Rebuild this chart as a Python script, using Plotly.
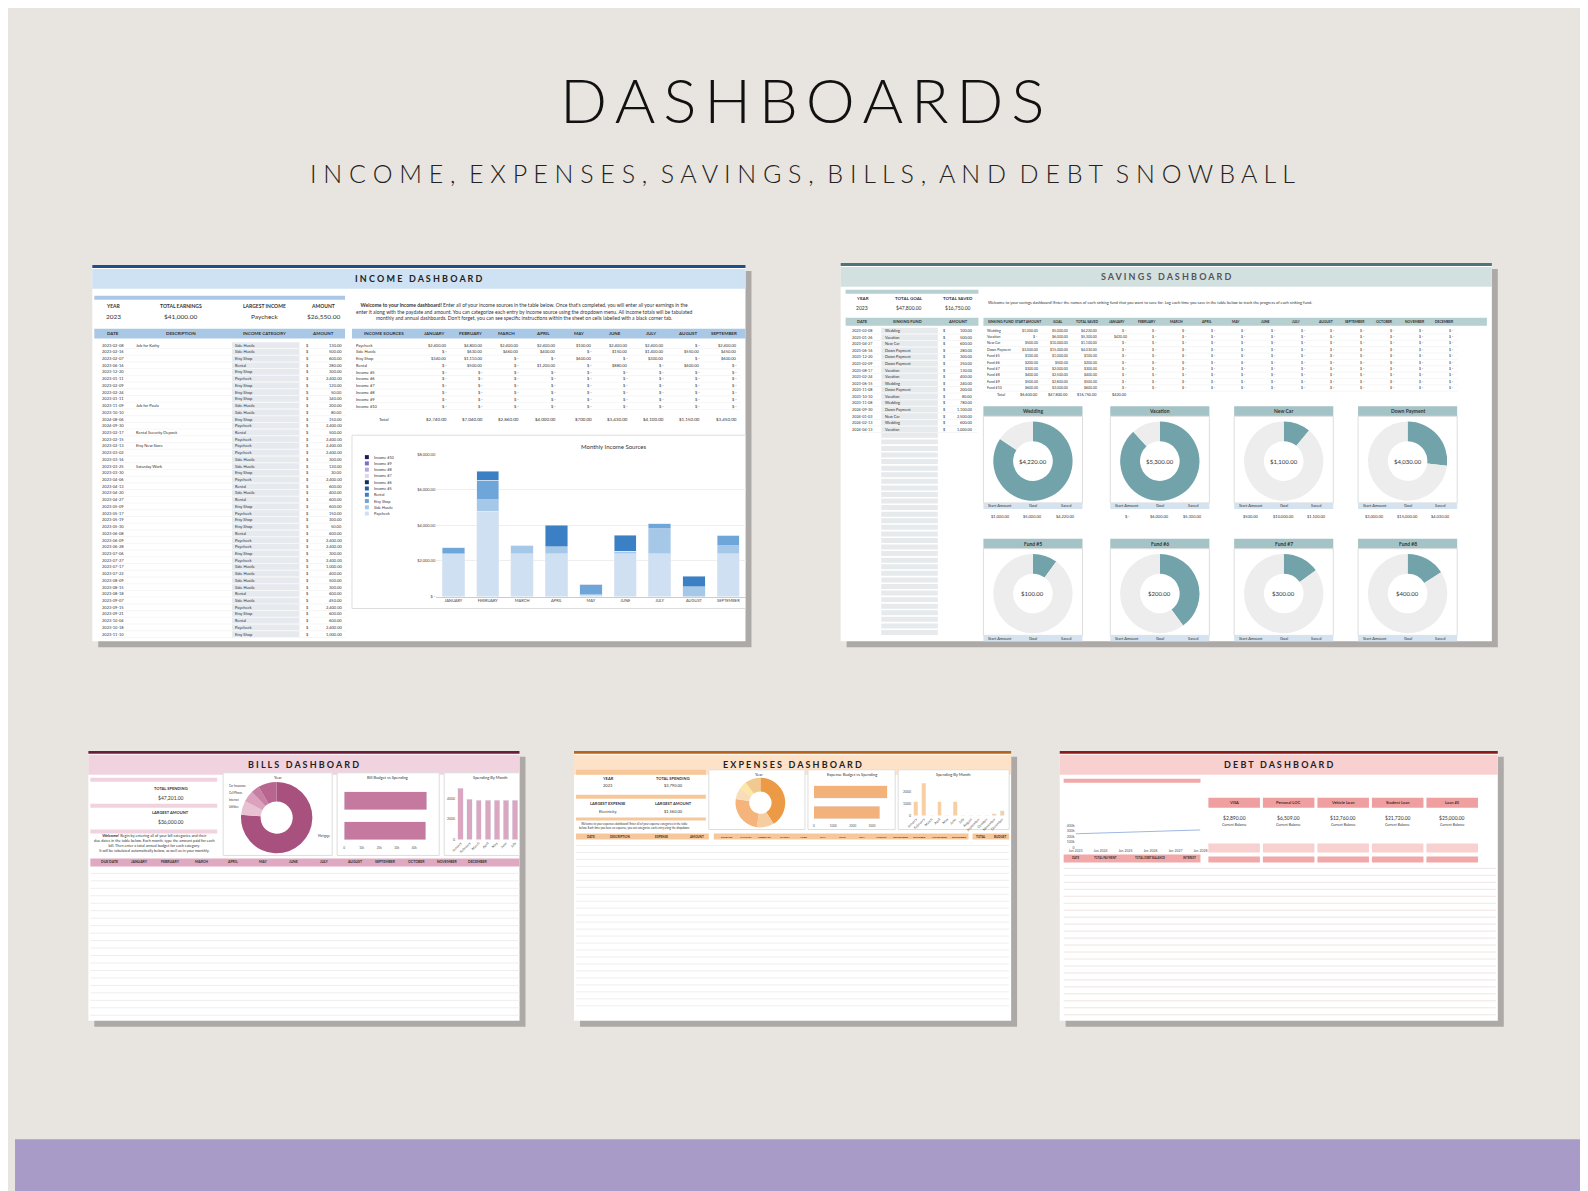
import plotly.graph_objects as go

W, H = 1588, 1191

def X(px):
    return px / W

def Y(py):
    return 1 - py / H

# ---- income dashboard data
months = ["JANUARY", "FEBRUARY", "MARCH", "APRIL", "MAY", "JUNE", "JULY", "AUGUST", "SEPTEMBER"]
paycheck = [2400, 4800, 2400, 2400, 100, 2400, 2400, 0, 2400]
side_hustle = [0, 630, 460, 400, 0, 150, 1400, 550, 450]
etsy_shop = [340, 1110, 0, 0, 600, 0, 300, 0, 600]
rental = [0, 500, 0, 1200, 0, 880, 0, 600, 0]
income_ticks = [0, 2000, 4000, 6000, 8000]
income_tick_text = ["$ -", "$2,000.00", "$4,000.00", "$6,000.00", "$8,000.00"]

log_dates = ["2023-02-08", "2023-02-16", "2023-02-07", "2023-06-16", "2023-12-20", "2023-01-11",
             "2023-02-09", "2023-02-24", "2023-01-11", "2023-11-09", "2023-10-10", "2024-08-06",
             "2024-09-30", "2023-02-17", "2023-02-15", "2023-02-13", "2023-03-02", "2023-03-16",
             "2023-03-25", "2023-03-30", "2023-04-06", "2023-04-13", "2023-04-20", "2023-04-27",
             "2023-05-09", "2023-05-17", "2023-05-19", "2023-05-30", "2023-06-08", "2023-06-09",
             "2023-06-28", "2023-07-06", "2023-07-27", "2023-07-17", "2023-07-22", "2023-08-09",
             "2023-08-15", "2023-08-18", "2023-09-07", "2023-09-15", "2023-09-21", "2023-10-04",
             "2023-10-18", "2023-11-10"]
log_desc = ["Job for Kathy", "", "", "", "", "", "", "", "", "Job for Paula", "", "", "",
            "Rental Security Deposit", "", "Etsy New Store", "", "", "Saturday Work"] + [""] * 25
log_cat = ["Side Hustle", "Side Hustle", "Etsy Shop", "Rental", "Etsy Shop", "Paycheck", "Etsy Shop",
           "Etsy Shop", "Etsy Shop", "Side Hustle", "Side Hustle", "Etsy Shop", "Paycheck", "Rental",
           "Paycheck", "Paycheck", "Paycheck", "Side Hustle", "Side Hustle", "Etsy Shop", "Paycheck",
           "Rental", "Side Hustle", "Rental", "Etsy Shop", "Paycheck", "Etsy Shop", "Etsy Shop",
           "Rental", "Paycheck", "Paycheck", "Etsy Shop", "Paycheck", "Side Hustle", "Side Hustle",
           "Side Hustle", "Side Hustle", "Rental", "Side Hustle", "Paycheck", "Etsy Shop", "Rental",
           "Paycheck", "Etsy Shop"]
log_amt = [130, 500, 600, 280, 300, 2400, 120, 50, 340, 200, 80, 150, 2400, 500, 2400, 2400, 2400,
           300, 130, 30, 2400, 600, 400, 600, 600, 150, 300, 50, 600, 2400, 2400, 300, 2400, 1000,
           400, 500, 300, 600, 450, 2400, 600, 600, 2400, 1000]

# ---- savings dashboard data
funds = ["Wedding", "Vacation", "New Car", "Down Payment", "Fund #5", "Fund #6", "Fund #7", "Fund #8",
         "Fund #9", "Fund #10"]
fund_start = [1000, 0, 500, 3000, 100, 200, 300, 400, 500, 600]
fund_goal = [5000, 6000, 10000, 15000, 1000, 500, 2000, 2500, 2800, 3000]
fund_saved = [4220, 5300, 1100, 4030, 100, 200, 300, 400, 500, 600]
fund_jan = [0, 420, 0, 0, 0, 0, 0, 0, 0, 0]
sav_dates = ["2023-02-08", "2023-01-26", "2023-04-27", "2023-06-16", "2023-12-20", "2023-02-09",
             "2023-08-17", "2023-02-24", "2023-06-15", "2023-11-08", "2023-10-10", "2023-11-08",
             "2024-09-30", "2024-01-03", "2024-02-13", "2024-04-13"]
sav_fund = ["Wedding", "Vacation", "New Car", "Down Payment", "Down Payment", "Down Payment",
            "Vacation", "Vacation", "Wedding", "Down Payment", "Vacation", "Wedding", "Down Payment",
            "New Car", "Wedding", "Vacation"]
sav_amt = [100, 500, 600, 280, 300, 250, 130, 400, 240, 200, 80, 780, 1100, 2500, 600, 1000]

# ---- bills / expenses / debt data
bill_cats = ["Mortgage", "Car Insurance", "Cell Phone", "Internet", "Utilities"]
bill_year = [36000, 3000, 2400, 1800, 4001]
bill_budget_lbl = ["Annual Budget", "Total"]
bill_budget = [46500, 47201]
bill_months = ["January", "February", "March", "April", "May", "June", "July"]
bill_month_vals = [5000, 3950, 3850, 3850, 3850, 3850, 3850]
exp_cats = ["Electricity", "Groceries", "Restaurants", "Entertainment", "Clothing", "Home Improvement"]
exp_year = [1560, 420, 950, 280, 200, 380]
exp_budget_lbl = ["Budget", "Total"]
exp_budget = [3400, 3790]
exp_months = ["January", "February", "March", "April", "May", "June", "July", "August", "September",
              "October", "November", "December"]
exp_month_vals = [1150, 2700, 0, 1150, 0, 1150, 0, 0, 0, 0, 150, 400]
debt_months = ["Jan 2023", "Jan 2024", "Jan 2025", "Jan 2026", "Jan 2027", "Jan 2028"]
debt_line = [250000, 262000, 275000, 290000, 305000, 320000]
debt_names = ["VISA", "Personal LOC", "Vehicle Loan", "Student Loan", "Loan #5"]
debt_bal = ["$2,890.00", "$6,509.00", "$12,760.00", "$21,720.00", "$25,000.00"]


def money(v):
    return "$ -" if v == 0 else "${:,.2f}".format(v)


fig = go.Figure()
shapes = []
ann = []


def rect(x0, y0, x1, y1, fill, line=None, lw=0):
    shapes.append(dict(type="rect", xref="paper", yref="paper", x0=X(x0), x1=X(x1), y0=Y(y1), y1=Y(y0),
                       fillcolor=fill, line=dict(color=line or fill, width=lw), layer="below"))


def text(x, y, s, size=6, color="#333", bold=False, anchor="center"):
    ann.append(dict(x=X(x), y=Y(y), xref="paper", yref="paper", text="<b>%s</b>" % s if bold else s,
                    showarrow=False, xanchor=anchor, yanchor="middle",
                    font=dict(size=size, color=color, family="Lato")))


def grid(cols, xs, aligns, y0, rowh, size=4, fills=None, widths=None):
    # cols: list of columns (lists of strings); xs: column anchor x
    n = len(cols[0])
    for r in range(n):
        yy = y0 + r * rowh
        shapes.append(dict(type="line", xref="paper", yref="paper", x0=X(xs[0] - 2), x1=X(xs[-1] + 2),
                           y0=Y(yy + rowh / 2), y1=Y(yy + rowh / 2), line=dict(color="#ececec", width=0.5)))
        for c, col in enumerate(cols):
            if fills and fills[c]:
                rect(widths[c][0], yy - rowh / 2 + 0.5, widths[c][1], yy + rowh / 2 - 0.5, fills[c])
            if col[r]:
                text(xs[c], yy, col[r], size=size, anchor=aligns[c])


def panel(x0, y0, x1, y1, band, top, title, tcolor):
    rect(x0 + 6, y0 + 6, x1 + 6, y1 + 6, "rgba(60,60,60,0.35)")
    rect(x0, y0, x1, y1, "white")
    rect(x0, y0, x1, y0 + 3, top)
    rect(x0, y0 + 4, x1, y0 + 24, band)
    text((x0 + x1) / 2, y0 + 14, title, size=9, color=tcolor, bold=True)


# background
rect(0, 0, W, H, "#e8e4df")
rect(0, 1133, W, H, "#a99bc8")

panel(78, 255, 737, 633, "#cfe2f3", "#1f4e8c", "I N C O M E   D A S H B O A R D", "#222")
panel(833, 253, 1490, 633, "#d3e0e0", "#4d7478", "S A V I N G S   D A S H B O A R D", "#555")
panel(74, 743, 509, 1014, "#f0d3df", "#6b1d3e", "B I L L S   D A S H B O A R D", "#222")
panel(564, 743, 1005, 1014, "#fde2c8", "#b5651d", "E X P E N S E S   D A S H B O A R D", "#222")
panel(1054, 743, 1496, 1014, "#f9d0d0", "#8b1a1a", "D E B T   D A S H B O A R D", "#222")

# titles
ann.append(dict(x=0.5, y=Y(88), xref="paper", yref="paper", showarrow=False, yanchor="middle",
                text="D\u2009A\u2009S\u2009H\u2009B\u2009O\u2009A\u2009R\u2009D\u2009S",
                font=dict(size=62, color="#111", family="Lato", weight=300)))
ann.append(dict(x=0.5, y=Y(163), xref="paper", yref="paper", showarrow=False, yanchor="middle",
                text="I N C O M E ,  E X P E N S E S ,  S A V I N G S ,  B I L L S ,  A N D  D E B T  S N O W B A L L",
                font=dict(size=25, color="#222", family="Lato", weight=300)))

# ---- income KPIs
rect(80, 286, 333, 290, "#a9c8e6")
for cx, lab, val in [(99, "YEAR", "2023"), (167, "TOTAL EARNINGS", "$41,000.00"),
                     (252, "LARGEST INCOME", "Paycheck"), (311, "AMOUNT", "$26,550.00")]:
    text(cx, 296, lab, size=5, bold=True)
    text(cx, 307, val, size=6.5)
text(342, 302, "<b>Welcome to your income dashboard!</b> Enter all of your income sources in the table below. "
     "Once that's completed, you will enter all your earnings in the<br>enter it along with the paydate and amount. "
     "You can categorize each entry by income source using the dropdown menu. All income totals will be tabulated<br>"
     "monthly and annual dashboards. Don't forget, you can see specific instructions within the sheet on cells "
     "labelled with a black corner tab.", size=5, anchor="left")

rect(80, 319, 333, 329, "#a9c8e6")
for cx, lab in [(99, "DATE"), (167, "DESCRIPTION"), (252, "INCOME CATEGORY"), (311, "AMOUNT")]:
    text(cx, 324, lab, size=4.5, bold=True)
grid([log_dates, log_desc, log_cat, ["$"] * 44, ["{:,.2f}".format(a) for a in log_amt]],
     [99, 120, 220, 292, 332], ["center", "left", "left", "left", "right"], 335.5, 6.75, size=4,
     fills=[None, None, "#e6e9ee", None, None], widths=[None, None, (219, 287), None, None])

sources = ["Paycheck", "Side Hustle", "Etsy Shop", "Rental"] + ["Income #%d" % i for i in range(5, 11)]
series = [paycheck, side_hustle, etsy_shop, rental]
rect(340, 319, 737, 329, "#a9c8e6")
text(372, 324, "INCOME SOURCES", size=4.5, bold=True)
inc_cols = [sources]
inc_xs = [342]
for m in range(len(months)):
    text(423 + m * 36.5, 324, months[m], size=4.5, bold=True)
    inc_cols.append([money(s[m]) for s in series] + ["$ -"] * 6)
    inc_xs.append(438 + m * 36.5)
grid(inc_cols, inc_xs, ["left"] + ["right"] * 9, 335.5, 6.8, size=4)
text(372, 410, "Total", size=4.5)
for m in range(len(months)):
    text(438 + m * 36.5, 410, money(sum(s[m] for s in series)), size=4.5, anchor="right")

rect(340, 426, 737, 600, "white", "#dddddd", 1)
colors_inc = ["#cfe0f2", "#a5c7e8", "#6fa6da", "#3b80c4"]
for name, vals, c in zip(["Paycheck", "Side Hustle", "Etsy Shop", "Rental"], series, colors_inc):
    fig.add_trace(go.Bar(x=months, y=vals, name=name, marker_color=c, xaxis="x", yaxis="y", showlegend=False))
text(604, 437, "Monthly Income Sources", size=6)
legend_names = ["Income #10", "Income #9", "Income #8", "Income #7", "Income #6", "Income #5",
                "Rental", "Etsy Shop", "Side Hustle", "Paycheck"]
legend_cols = ["#1f1a5e", "#7b6fc6", "#b6a9e0", "#d9d9e8", "#0d2d5e", "#1f5aa6"] + colors_inc[::-1]
for i, (nm, c) in enumerate(zip(legend_names, legend_cols)):
    rect(353, 446 + i * 6.3, 357, 450 + i * 6.3, c)
    text(360, 448 + i * 6.3, nm, size=3.8, anchor="left")

# ---- savings
rect(838, 280, 972, 284, "#b6cfd0")
for cx, lab, val in [(855, "YEAR", "2023"), (902, "TOTAL GOAL", "$47,800.00"), (951, "TOTAL SAVED", "$16,750.00")]:
    text(cx, 289, lab, size=4.5, bold=True)
    text(cx, 298, val, size=5)
text(980, 293, "Welcome to your savings dashboard! Enter the names of each sinking fund that you want to save for. "
     "Log each time you save in the table below to track the progress of each sinking fund.", size=4, anchor="left")
rect(838, 308, 972, 316, "#b6cfd0")
for cx, lab in [(855, "DATE"), (900, "SINKING FUND"), (951, "AMOUNT")]:
    text(cx, 312, lab, size=4, bold=True)
grid([sav_dates, sav_fund, ["$"] * 16, ["{:,.2f}".format(a) for a in sav_amt]],
     [855, 876, 934, 969], ["center", "left", "left", "right"], 321, 6.6, size=3.8,
     fills=[None, "#e6eaec", None, None], widths=[None, (874, 931), None, None])
for r in range(16, 47):
    rect(874, 318 + r * 6.6, 931, 323 + r * 6.6, "#e6eaec")

rect(977, 308, 1485, 316, "#b6cfd0")
sv_heads = ["SINKING FUND", "START AMOUNT", "GOAL", "TOTAL SAVED", "JANUARY", "FEBRUARY", "MARCH", "APRIL",
            "MAY", "JUNE", "JULY", "AUGUST", "SEPTEMBER", "OCTOBER", "NOVEMBER", "DECEMBER"]
sv_xs = [979] + [1034 + i * 30 for i in range(15)]
text(995, 312, sv_heads[0], size=3.6, bold=True)
for i, hd in enumerate(sv_heads[1:]):
    text(sv_xs[i + 1] - 12, 312, hd, size=3.4, bold=True)
sv_cols = [funds, [money(v) for v in fund_start], [money(v) for v in fund_goal], [money(v) for v in fund_saved],
           [money(v) for v in fund_jan]] + [["$ -"] * 10 for _ in range(11)]
grid(sv_cols, sv_xs, ["left"] + ["right"] * 15, 321, 6.4, size=3.5)
text(995, 385, "Total", size=3.8)
for i, v in enumerate([sum(fund_start), sum(fund_goal), sum(fund_saved), sum(fund_jan)]):
    text(sv_xs[i + 1], 385, money(v), size=3.8, anchor="right")

col_c = [1027, 1155, 1280, 1405]
row_c = [452, 585]
for i in range(8):
    cx, cy = col_c[i % 4], row_c[i // 4]
    rect(cx - 50, cy - 55, cx + 50, cy - 45, "#a4c3c6")
    text(cx, cy - 50, funds[i], size=5, bold=True)
    rect(cx - 50, cy - 45, cx + 50, cy + 42, "white", "#dddddd", 1)
    rect(cx - 50, cy + 42, cx + 50, cy + 48, "#d5e3f0")
    text(cx - 33, cy + 45, "Start Amount", size=4)
    text(cx, cy + 45, "Goal", size=4)
    text(cx + 33, cy + 45, "Saved", size=4)
    if i < 4:
        text(cx - 33, cy + 56, money(fund_start[i]), size=4)
        text(cx, cy + 56, money(fund_goal[i]), size=4)
        text(cx + 33, cy + 56, money(fund_saved[i]), size=4)
    fig.add_trace(go.Pie(values=[fund_saved[i], max(fund_goal[i] - fund_saved[i], 0)],
                         labels=["Saved", "Remaining"], hole=0.5, sort=False, direction="clockwise",
                         rotation=0, textinfo="none", showlegend=False,
                         marker=dict(colors=["#72a3aa", "#ededed"]),
                         domain=dict(x=[X(cx - 40), X(cx + 40)], y=[Y(cy + 40), Y(cy - 40)])))
    text(cx, cy, money(fund_saved[i]), size=6, color="#333")

# ---- bills
rect(76, 770, 204, 774, "#f0d3df")
text(157, 781, "TOTAL SPENDING", size=4, bold=True)
text(157, 790, "$47,201.00", size=5)
rect(76, 796, 204, 800, "#f0d3df")
text(157, 805, "LARGEST AMOUNT", size=4, bold=True)
text(157, 814, "$36,000.00", size=5)
rect(76, 822, 204, 826, "#f0d3df")
text(78, 836, "<b>Welcome!</b> Begin by entering all of your bill categories and their<br>due dates in the table below. "
     "Each month, type the amount paid for each<br>bill. Then enter a total annual budget for each category.<br>"
     "It will be tabulated automatically below, as well as in your monthly.",
     size=3.8, anchor="left")
rect(210, 765, 320, 848, "white", "#dddddd", 1)
rect(325, 765, 428, 848, "white", "#dddddd", 1)
rect(433, 765, 509, 848, "white", "#dddddd", 1)
text(265, 770, "Year", size=4)
text(376, 770, "Bill Budget vs Spending", size=4)
text(480, 770, "Spending By Month", size=4)
fig.add_trace(go.Pie(values=bill_year, labels=bill_cats, hole=0.45, sort=False, direction="clockwise",
                     textinfo="none", showlegend=False,
                     marker=dict(colors=["#a8517f", "#e8c2d3", "#dba2bd", "#c77fa3", "#b8668f"]),
                     domain=dict(x=[X(228), X(300)], y=[Y(846), Y(774)])))
for i, nm in enumerate(bill_cats[1:]):
    text(214, 778 + i * 7, nm, size=2.8, anchor="left")
text(304, 828, "Mortgage", size=2.8, anchor="left")
fig.add_trace(go.Bar(y=bill_budget_lbl, x=bill_budget, orientation="h", marker_color="#c5799e",
                     showlegend=False, xaxis="x2", yaxis="y2", width=0.6))
fig.add_trace(go.Bar(x=bill_months, y=bill_month_vals, marker_color="#dba7c0", showlegend=False,
                     xaxis="x3", yaxis="y3", width=0.6))
rect(76, 851, 509, 859, "#dfa9c2")
for i, m in enumerate(["DUE DATE"] + [mm.upper() for mm in exp_months]):
    text(95 + i * 31, 855, m, size=3.5, bold=True)
for r in range(20):
    shapes.append(dict(type="line", xref="paper", yref="paper", x0=X(76), x1=X(509),
                       y0=Y(866 + r * 7.5), y1=Y(866 + r * 7.5), line=dict(color="#eeeeee", width=1)))

# ---- expenses
rect(566, 762, 697, 767, "#f6c79a")
text(598, 771, "YEAR", size=4, bold=True)
text(598, 778, "2023", size=4)
text(664, 771, "TOTAL SPENDING", size=4, bold=True)
text(664, 778, "$3,790.00", size=4)
rect(566, 787, 697, 791, "#f6c79a")
text(598, 796, "LARGEST EXPENSE", size=4, bold=True)
text(598, 804, "Electricity", size=4)
text(664, 796, "LARGEST AMOUNT", size=4, bold=True)
text(664, 804, "$1,560.00", size=4)
rect(566, 810, 697, 813, "#f6c79a")
text(567, 818, "Welcome to your expenses dashboard! Enter all of your expense categories in the table<br>"
     "below. Each time you have an expense, you can categorize each entry using the dropdown.", size=2.8, anchor="left")
rect(700, 762, 797, 822, "white", "#dddddd", 1)
rect(800, 762, 888, 822, "white", "#dddddd", 1)
rect(891, 762, 1003, 822, "white", "#dddddd", 1)
text(751, 767, "Year", size=4)
text(844, 767, "Expense Budget vs Spending", size=4)
text(947, 767, "Spending By Month", size=4)
fig.add_trace(go.Pie(values=exp_year, labels=exp_cats, hole=0.45, sort=False, direction="clockwise",
                     textinfo="none", showlegend=False,
                     marker=dict(colors=["#ec9a45", "#f6cda0", "#f4b47b", "#f9dcb9", "#fbe7a8", "#f2c98f"]),
                     domain=dict(x=[X(722), X(782)], y=[Y(820), Y(770)])))
fig.add_trace(go.Bar(y=exp_budget_lbl, x=exp_budget, orientation="h", marker_color="#f2b27a",
                     showlegend=False, xaxis="x4", yaxis="y4", width=0.6))
fig.add_trace(go.Bar(x=exp_months, y=exp_month_vals, marker_color="#f8cfa3", showlegend=False,
                     xaxis="x5", yaxis="y5", width=0.5))
rect(566, 826, 700, 832, "#f6c79a")
rect(705, 826, 962, 832, "#f6c79a")
rect(966, 826, 1003, 832, "#f6c79a")
for cx, lab in [(581, "DATE"), (610, "DESCRIPTION"), (652, "EXPENSE"), (688, "AMOUNT")]:
    text(cx, 829, lab, size=3, bold=True)
for i, m in enumerate(["EXPENSE"] + [mm.upper() for mm in exp_months]):
    text(718 + i * 19.5, 829, m, size=2.6, bold=True)
text(975, 829, "TOTAL", size=3, bold=True)
text(994, 829, "BUDGET", size=3, bold=True)
for r in range(24):
    shapes.append(dict(type="line", xref="paper", yref="paper", x0=X(566), x1=X(1003),
                       y0=Y(838 + r * 7), y1=Y(838 + r * 7), line=dict(color="#eeeeee", width=1)))

# ---- debt
rect(1058, 771, 1196, 775, "#f2a8a8")
rect(1058, 847, 1196, 855, "#f2a8a8")
for cx, lab in [(1070, "DATE"), (1100, "TOTAL PAYMENT"), (1145, "TOTAL DEBT BALANCE"), (1185, "INTEREST")]:
    text(cx, 851, lab, size=2.8, bold=True)
fig.add_trace(go.Scatter(x=debt_months, y=debt_line, mode="lines", line=dict(color="#9fb8e0", width=1),
                         showlegend=False, xaxis="x6", yaxis="y6"))
for i, (nm, bal) in enumerate(zip(debt_names, debt_bal)):
    cx = 1230 + i * 55
    rect(cx - 26, 790, cx + 26, 800, "#ef9f9f")
    text(cx, 795, nm, size=4, bold=True)
    text(cx, 810, bal, size=5)
    text(cx, 817, "Current Balance", size=3.5)
    rect(cx - 26, 836, cx + 26, 845, "#f9d0d0")
    rect(cx - 26, 849, cx + 26, 855, "#f2a8a8")
for r in range(22):
    shapes.append(dict(type="line", xref="paper", yref="paper", x0=X(1058), x1=X(1494),
                       y0=Y(861 + r * 7), y1=Y(861 + r * 7), line=dict(color="#f0e4e4", width=1)))

small_ax = dict(showgrid=False, zeroline=False, tickfont=dict(size=3.5, color="#555"))
fig.update_layout(
    width=W, height=H, margin=dict(l=0, r=0, t=0, b=0), paper_bgcolor="#e8e4df", plot_bgcolor="white",
    barmode="stack", bargap=0.35, shapes=shapes, annotations=ann, showlegend=False,
    font=dict(family="Lato"),
    xaxis=dict(domain=[X(425), X(737)], anchor="y", tickfont=dict(size=4, color="#444"), showline=True,
               linecolor="#cccccc"),
    yaxis=dict(domain=[Y(588), Y(445)], anchor="x", range=[0, 8000], tickvals=income_ticks,
               ticktext=income_tick_text, tickfont=dict(size=4, color="#444"), gridcolor="#eeeeee",
               zeroline=False),
    xaxis2=dict(domain=[X(332), X(420)], anchor="y2", tickfont=dict(size=3, color="#555"), showgrid=False),
    yaxis2=dict(domain=[Y(838), Y(778)], anchor="x2", showticklabels=False),
    xaxis3=dict(domain=[X(445), X(509)], anchor="y3", range=[-0.5, 6.5], tickangle=-45, **small_ax),
    yaxis3=dict(domain=[Y(832), Y(778)], anchor="x3", **small_ax),
    xaxis4=dict(domain=[X(806), X(884)], anchor="y4", tickfont=dict(size=3, color="#555"), showgrid=False),
    yaxis4=dict(domain=[Y(815), Y(774)], anchor="x4", showticklabels=False),
    xaxis5=dict(domain=[X(905), X(1000)], anchor="y5", tickangle=-45, **small_ax),
    yaxis5=dict(domain=[Y(808), Y(774)], anchor="x5", **small_ax),
    xaxis6=dict(domain=[X(1070), X(1196)], anchor="y6", **small_ax),
    yaxis6=dict(domain=[Y(840), Y(818)], anchor="x6", range=[0, 400000], **small_ax),
)

fig.write_html("out.html")
